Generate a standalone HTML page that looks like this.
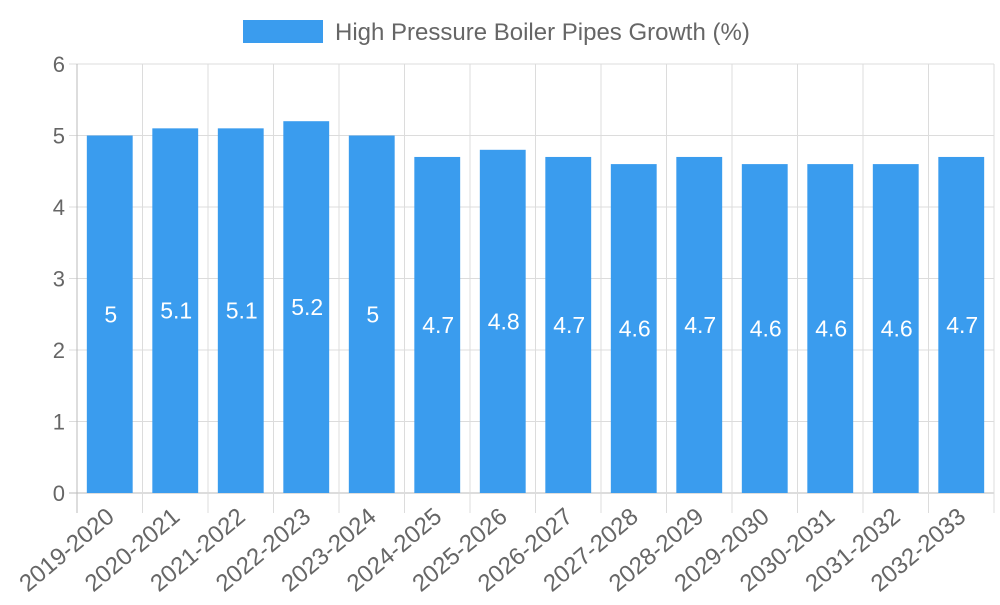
<!DOCTYPE html>
<html><head><meta charset="utf-8"><style>
body{margin:0;background:#fff;font-family:"Liberation Sans",sans-serif}
</style></head><body>
<svg id="c" width="1000" height="600" xmlns="http://www.w3.org/2000/svg">
<rect x="243" y="20" width="80" height="23" fill="#3a9cee"/>
<text x="335" y="40" font-size="24" fill="#666" font-family="Liberation Sans, sans-serif">High Pressure Boiler Pipes Growth (%)</text>
<g id="grid"></g><g id="bars"></g><g id="labels"></g>
</svg>
<script>
const categories=["2019-2020","2020-2021","2021-2022","2022-2023","2023-2024","2024-2025","2025-2026","2026-2027","2027-2028","2028-2029","2029-2030","2030-2031","2031-2032","2032-2033"];
const values=[5,5.1,5.1,5.2,5,4.7,4.8,4.7,4.6,4.7,4.6,4.6,4.6,4.7];
const yTicks=[0,1,2,3,4,5,6];
const NS="http://www.w3.org/2000/svg";
const X0=77,X1=994,Y0=493,Y1=64,YMAX=6;
const bw=(X1-X0)/categories.length;
const y=v=>Y0-(v/YMAX)*(Y0-Y1);
const x=i=>X0+i*bw;
function mk(t,a,p){const e=document.createElementNS(NS,t);for(const k in a)e.setAttribute(k,a[k]);p.appendChild(e);return e;}
const g=document.getElementById('grid'),b=document.getElementById('bars'),l=document.getElementById('labels');
yTicks.forEach(t=>{
 const ln=mk('line',{x1:X0-8,x2:X1,y1:y(t),y2:y(t),stroke:t===0?'#bbb':'#dcdcdc','stroke-width':1},g);
 
 
 const tx=mk('text',{x:X0-12,y:y(t)+8,'text-anchor':'end','font-size':22,fill:'#666'},g);
 tx.textContent=t;
 
 
});
for(let i=0;i<=categories.length;i++){
 const ln=mk('line',{x1:x(i),x2:x(i),y1:Y1,y2:Y0+20,stroke:i===0?'#bbb':'#dcdcdc','stroke-width':1},g);
 
 
}
categories.forEach((c,i)=>{
 const cx=x(i)+bw/2,w=bw*0.7;
 const r=mk('rect',{x:cx-w/2,y:y(values[i]),width:w,height:Y0-y(values[i]),fill:'#3a9cee'},b);
 
 
 const v=mk('text',{x:cx+1,y:(y(values[i])+Y0)/2+8,'text-anchor':'middle','font-size':23,fill:'#fff'},l);
 v.textContent=values[i];
 
 
 const t=mk('text',{x:0,y:0,'text-anchor':'end','font-size':24,fill:'#666',transform:`translate(${cx+6},${Y0+26}) rotate(-40)`},l);
 t.textContent=c;
 
 
});
</script>
</body></html>
